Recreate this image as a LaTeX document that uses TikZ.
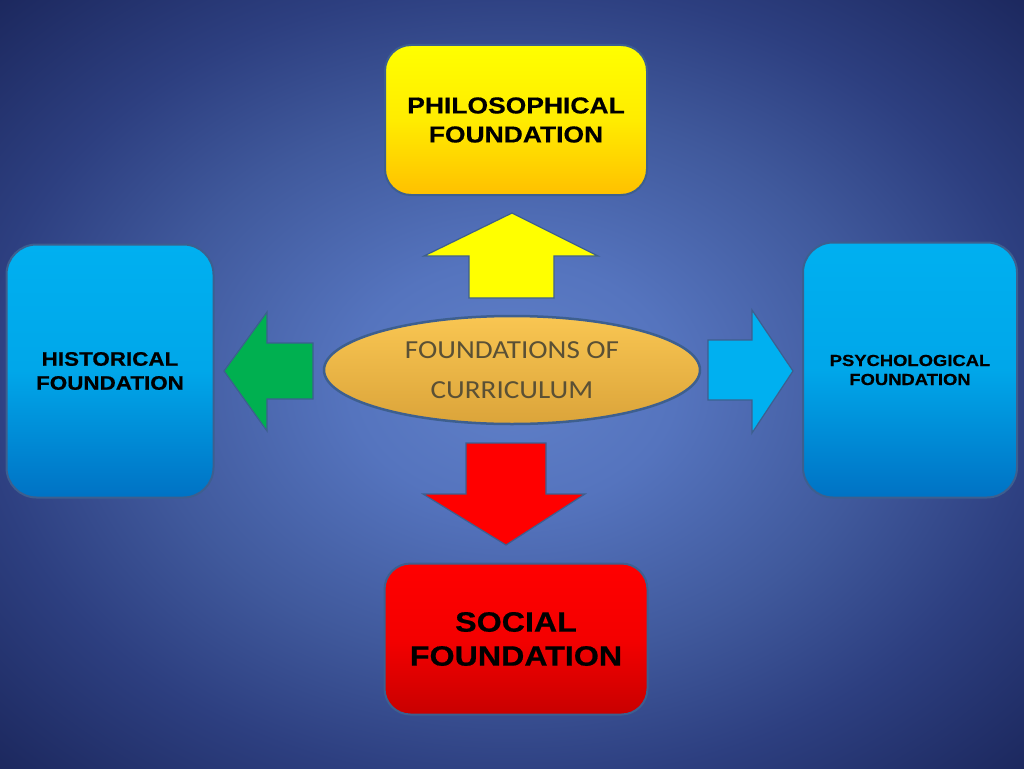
\documentclass[tikz,border=0pt]{standalone}
\usepackage{fontspec}
\usetikzlibrary{shapes.geometric}
\newfontfamily\arialbold{Liberation Sans}[FakeStretch=1.15,BoldFeatures={FakeBold=0.6}]
\newfontfamily\calib{Carlito}[FakeStretch=1.12]
\definecolor{bgA}{HTML}{6080C8}
\definecolor{bgB}{HTML}{5574BE}
\definecolor{bgC}{HTML}{40599C}
\definecolor{bgD}{HTML}{2D3F80}
\definecolor{bgE}{HTML}{1C285E}
\definecolor{edge}{HTML}{3D5F8F}
\definecolor{cyanT}{HTML}{00B0F0}
\definecolor{cyanB}{HTML}{0072C4}
\definecolor{yelT}{HTML}{FFFF00}
\definecolor{yelB}{HTML}{FFC000}
\definecolor{redT}{HTML}{FF0000}
\definecolor{redB}{HTML}{C80000}
\definecolor{ellT}{HTML}{F9C652}
\definecolor{ellB}{HTML}{DBA43A}
\definecolor{elltext}{HTML}{5A5035}
\definecolor{arrGreen}{HTML}{00B050}
\definecolor{arrBlue}{HTML}{00B0F0}
\definecolor{arrRed}{HTML}{FF0000}
\definecolor{arrYel}{HTML}{FFFF00}
\pgfdeclareradialshading{bgshade}{\pgfpoint{0bp}{0bp}}{color(0bp)=(bgA); color(8bp)=(bgB); color(18bp)=(bgC); color(26bp)=(bgD); color(35.5bp)=(bgE); color(50bp)=(bgE)}
\tikzset{
  fbox/.style={draw=edge, line width=2pt, rounded corners=26pt, align=center,
    font=\arialbold\bfseries, text=black, inner sep=0pt},
  cyanbox/.style={fbox, top color=cyanT, bottom color=cyanB, middle color=cyanT!85!cyanB},
  blockarrow/.style={draw=edge, line width=1.2pt, line join=miter},
}
\begin{document}
\begin{tikzpicture}[x=1pt,y=-1pt]
\useasboundingbox (0,0) rectangle (1024,768);
\shade[shading=bgshade] (0,0) rectangle (1024,768);

% boxes
\node[fbox, top color=yelT, bottom color=yelB, middle color=yelT!70!yelB,
  minimum width=262pt, minimum height=150pt, font=\arialbold\bfseries\fontsize{23}{29}\selectfont]
  (phil) at (516,120) {PHILOSOPHICAL\\FOUNDATION};
\node[cyanbox, minimum width=207pt, minimum height=253pt, rounded corners=30pt,
  font=\arialbold\bfseries\fontsize{19.5}{24}\selectfont]
  (hist) at (110,371) {HISTORICAL\\FOUNDATION};
\node[cyanbox, minimum width=214pt, minimum height=255pt, rounded corners=30pt,
  font=\arialbold\bfseries\fontsize{16}{19}\selectfont]
  (psy) at (910,370) {PSYCHOLOGICAL\\FOUNDATION};
\node[fbox, top color=redT, bottom color=redB, middle color=redT!80!redB,
  minimum width=263pt, minimum height=151pt,
  font=\arialbold\bfseries\fontsize{28}{34}\selectfont]
  (soc) at (516,639) {SOCIAL\\FOUNDATION};

% central ellipse
\node[ellipse, draw=edge, line width=2.5pt, top color=ellT, bottom color=ellB,
  minimum width=376pt, minimum height=108pt, inner sep=0pt, align=center,
  text=elltext, font=\calib\fontsize{26}{40}\selectfont]
  (core) at (512,370) {FOUNDATIONS OF\\CURRICULUM};

% block arrows
\draw[blockarrow, fill=arrYel] (469,298) -- (469,256) -- (424,256) -- (512,213)
  -- (598,256) -- (554,256) -- (554,298) -- cycle;
\draw[blockarrow, fill=arrGreen] (313,343) -- (267,343) -- (267,312) -- (224,371)
  -- (267,431) -- (267,399) -- (313,399) -- cycle;
\draw[blockarrow, fill=arrBlue] (708,340) -- (752,340) -- (752,310) -- (793,371)
  -- (752,433) -- (752,400) -- (708,400) -- cycle;
\draw[blockarrow, fill=arrRed] (466,443) -- (546,443) -- (546,494) -- (585,494)
  -- (506,545) -- (423,494) -- (466,494) -- cycle;
\end{tikzpicture}
\end{document}
